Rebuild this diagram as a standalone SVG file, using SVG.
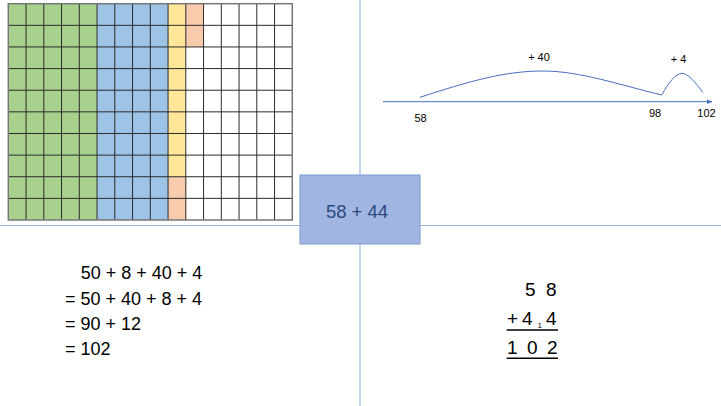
<svg xmlns="http://www.w3.org/2000/svg" width="721" height="406" viewBox="0 0 721 406">
<style>
.t{font-family:"Liberation Sans",Arial,sans-serif;fill:#000}
.nl{font-size:11px}
.big{font-size:18px}
.col{font-size:19px}
.div{stroke:#9DB5E3;stroke-width:1.2;fill:none}
.blue{stroke:#4A6FBF;stroke-width:1;fill:none}
</style>
<defs>
<marker id="ah" viewBox="0 0 10 10" refX="9" refY="5" markerWidth="6" markerHeight="6" orient="auto" markerUnits="userSpaceOnUse">
<path d="M0,1 L10,5 L0,9 z" fill="#4472C4"/>
</marker>
</defs>
<rect width="721" height="406" fill="#fff"/>
<g id="dividers">
<line class="div" x1="360" y1="0" x2="360" y2="406"/>
<line class="div" x1="0" y1="225.5" x2="721" y2="225.5"/>
</g>
<g id="grid">
<rect x="8.3" y="3.7" width="88.75" height="216.3" fill="#A9D18E"/>
<rect x="97.05" y="3.7" width="71" height="216.3" fill="#9DC3E6"/>
<rect x="168.05" y="3.7" width="17.75" height="173.04" fill="#FFE699"/>
<rect x="168.05" y="176.74" width="17.75" height="43.26" fill="#F8CBAD"/>
<rect x="185.8" y="3.7" width="17.75" height="43.26" fill="#F8CBAD"/>
<path stroke="#2b2b2b" stroke-width="1" fill="none" d="M26.05,3.7V220M43.8,3.7V220M61.55,3.7V220M79.3,3.7V220M97.05,3.7V220M114.8,3.7V220M132.55,3.7V220M150.3,3.7V220M168.05,3.7V220M185.8,3.7V220M203.55,3.7V220M221.3,3.7V220M239.05,3.7V220M256.8,3.7V220M274.55,3.7V220M8.3,25.33H292.3M8.3,46.96H292.3M8.3,68.59H292.3M8.3,90.22H292.3M8.3,111.85H292.3M8.3,133.48H292.3M8.3,155.11H292.3M8.3,176.74H292.3M8.3,198.37H292.3"/>
<rect x="8.3" y="3.7" width="284" height="216.3" fill="none" stroke="#777" stroke-width="1.5"/>
</g>
<g id="numberline">
<line class="blue" x1="383" y1="101.7" x2="712" y2="101.7" stroke="#4472C4" marker-end="url(#ah)"/>
<path class="blue" d="M420,97.3 C470,81 505,71 543,71 C580,71 620,85 661.7,95"/>
<path class="blue" d="M661.7,95 C669,82 676,73.3 682,73.3 C688,73.3 696,83 702.7,92.3"/>
<text class="t nl" x="539" y="61" text-anchor="middle">+ 40</text>
<text class="t nl" x="678.5" y="63" text-anchor="middle">+ 4</text>
<text class="t nl" x="420.5" y="122" text-anchor="middle">58</text>
<text class="t nl" x="655" y="117" text-anchor="middle">98</text>
<text class="t nl" x="706.5" y="117" text-anchor="middle">102</text>
</g>
<g id="problem">
<rect x="300" y="175" width="120" height="69" fill="#A0B5E1" stroke="#7F9BD0" stroke-width="1"/>
<text class="t" x="357" y="218" text-anchor="middle" font-size="18.5" style="fill:#2E4A7D">58 + 44</text>
</g>
<g id="expanded">
<text class="t big" x="80.7" y="279">50 + 8 + 40 + 4</text>
<text class="t big" x="65" y="305">= 50 + 40 + 8 + 4</text>
<text class="t big" x="65" y="330">= 90 + 12</text>
<text class="t big" x="65" y="355">= 102</text>
</g>
<g id="column">
<text class="t col" y="296"><tspan x="525">5</tspan><tspan x="546">8</tspan></text>
<text class="t col" y="325"><tspan x="507">+</tspan><tspan x="522">4</tspan><tspan x="546">4</tspan></text>
<text class="t" x="537.5" y="327.5" font-size="8">1</text>
<line x1="506.7" y1="330" x2="558" y2="330" stroke="#000" stroke-width="1.6"/>
<text class="t col" y="354"><tspan x="507">1</tspan><tspan x="527">0</tspan><tspan x="547">2</tspan></text>
<line x1="506.7" y1="358.3" x2="558" y2="358.3" stroke="#000" stroke-width="1.6"/>
</g>
</svg>
